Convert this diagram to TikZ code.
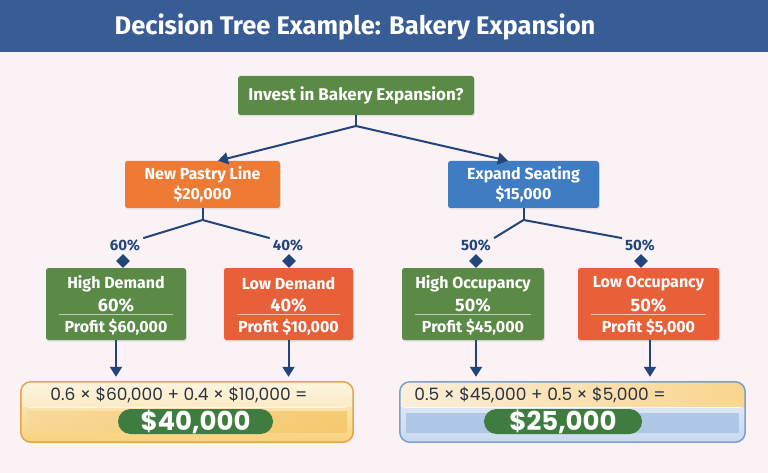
\documentclass[tikz,border=0pt]{standalone}
\usepackage{fontspec}
\setmainfont{Fira Sans}
\newfontfamily\popfont{Poppins}
\usetikzlibrary{arrows.meta,shapes.geometric,shadows,calc}
\definecolor{bg}{HTML}{FAF2F4}
\definecolor{titlebar}{HTML}{385C96}
\definecolor{gnode}{HTML}{5A8A46}
\definecolor{onode}{HTML}{EF7A33}
\definecolor{rnode}{HTML}{E8603A}
\definecolor{bnode}{HTML}{3F7CC1}
\definecolor{navy}{HTML}{22457B}
\definecolor{pillg}{HTML}{3E7C3F}
\definecolor{txtdark}{HTML}{2A3440}
\definecolor{ytop}{HTML}{FDF0D2}
\definecolor{ybot}{HTML}{F8D37C}
\definecolor{yband}{HTML}{F3BD50}
\definecolor{yborder}{HTML}{E9A24E}
\definecolor{ctopl}{HTML}{FBEEDB}
\definecolor{ctopr}{HTML}{FAD58C}
\definecolor{btop}{HTML}{DCE6F2}
\definecolor{bbot}{HTML}{C9D9EE}
\definecolor{bband}{HTML}{A6C2E6}
\definecolor{bborder}{HTML}{7C9FCC}
\tikzset{
  box/.style={rounded corners=2.5pt, text=white, align=center, inner sep=0pt,
    font=\bfseries\fontsize{16}{20}\selectfont,
    drop shadow={opacity=0.18, shadow xshift=0.8pt, shadow yshift=-1.5pt}},
  leaf/.style={box, minimum height=72pt},
  conn/.style={draw=navy, line width=2pt},
  arr/.style={conn, -{Triangle[length=10pt,width=12pt]}},
  pct/.style={text=navy, font=\bfseries\fontsize{15}{17}\selectfont, inner sep=1pt},
  dia/.style={diamond, fill=navy, inner sep=0pt, minimum size=14pt},
  ltxt/.style={text=white, font=\bfseries\fontsize{16}{19}\selectfont, inner sep=0pt},
  btxt/.style={text=white, font=\bfseries\fontsize{18}{21}\selectfont, inner sep=0pt},
  ptxt/.style={text=white, font=\bfseries\fontsize{16}{19}\selectfont, inner sep=0pt},
  sep/.style={draw=white, opacity=0.6, line width=0.8pt},
  formula/.style={text=txtdark, font=\popfont\fontsize{17}{20}\selectfont, inner sep=0pt},
  pill/.style={fill=pillg, rounded corners=12.5pt, text=white, inner sep=0pt,
    font=\popfont\bfseries\fontsize{26}{30}\selectfont},
}
\begin{document}
\begin{tikzpicture}[x=1pt,y=-1pt]
\useasboundingbox (0,0) rectangle (768,473);
\fill[bg] (0,0) rectangle (768,473);
\fill[titlebar] (0,0) rectangle (768,52);
\node[text=white, font=\bfseries\fontsize{25.5}{30}\selectfont, inner sep=0pt] (title) at (355,27) {Decision Tree Example: Bakery Expansion};

% root and first level
\node[box, fill=gnode, minimum width=236pt, minimum height=39pt, font=\bfseries\fontsize{17}{20}\selectfont] (root) at (356,95.5) {Invest in Bakery Expansion?};
\node[box, fill=onode, minimum width=155pt, minimum height=47pt] (np) at (202.5,184.5) {New Pastry Line\\\$20,000};
\node[box, fill=bnode, minimum width=151pt, minimum height=47pt] (es) at (523.5,184.5) {Expand Seating\\\$15,000};

\coordinate (j0) at (356,126);
\draw[conn] (root.south) -- (j0);
\draw[arr] (j0) -- ([xshift=15.5pt]np.north);
\draw[arr] (j0) -- ([xshift=-15.5pt]es.north);

% leaves
\node[leaf, fill=gnode, minimum width=140pt] (hd) at (116,304) {};
\node[leaf, fill=rnode, minimum width=129pt] (ld) at (288.5,304) {};
\node[leaf, fill=gnode, minimum width=142pt] (ho) at (473,304) {};
\node[leaf, fill=rnode, minimum width=141pt] (lo) at (648.5,304) {};

\foreach \n/\a/\b/\c in {hd/High Demand/60\%/{Profit \$60,000}, ld/Low Demand/40\%/{Profit \$10,000}, ho/High Occupancy/50\%/{Profit \$45,000}, lo/Low Occupancy/50\%/{Profit \$5,000}}{
  \node[ltxt] (\n t) at ($(\n.north)+(0,16)$) {\a};
  \node[btxt] (\n p) at ($(\n.north)+(0,38)$) {\b};
  \node[ptxt] (\n f) at ($(\n.north)+(0,59)$) {\c};
  \draw[sep] ($(\n.north west)+(13,47)$) -- ($(\n.north east)+(-13,47)$);
}

% pastry branch
\coordinate (j1) at (202.5,220);
\draw[conn] (np.south) -- (j1);
\node[pct] (l60) at (125,245) {60\%};
\node[pct] (l40) at (288,245) {40\%};
\draw[conn] (j1) -- ([xshift=2pt,yshift=0pt]l60.north east);
\draw[conn] (j1) -- ([xshift=-2pt]l40.north west);
\node[dia] (d60) at (123,261) {};
\node[dia] (d40) at (289,261) {};

% seating branch
\coordinate (j2) at (523.5,220);
\draw[conn] (es.south) -- (j2);
\node[pct] (l50a) at (476,245) {50\%};
\node[pct] (l50b) at (640,245) {50\%};
\draw[conn] (j2) -- ([xshift=2pt]l50a.north east);
\draw[conn] (j2) -- ([xshift=-2pt]l50b.north west);
\node[dia] (d50a) at (476,261) {};
\node[dia] (d50b) at (641,261) {};

% result boxes
\node[minimum width=332pt, minimum height=60pt, inner sep=0pt] (r1) at (187,412) {};
\node[minimum width=345pt, minimum height=60pt, inner sep=0pt] (r2) at (572.5,412) {};

\begin{scope}
  \clip[rounded corners=10pt] (r1.north west) rectangle (r1.south east);
  \shade[top color=ytop, bottom color=ybot] (r1.north west) rectangle (r1.south east);
  \shade[left color=yband!60, right color=yband!90, opacity=0.75] ($(r1.north west)+(6,30)$) rectangle ($(r1.north east)+(-6,51)$);
  \fill[white, opacity=0.3] (r1.north west) rectangle ($(r1.north east)+(0,25)$);
\end{scope}
\draw[draw=yborder, line width=1.5pt, rounded corners=10pt] (r1.north west) rectangle (r1.south east);
\draw[white, opacity=0.8, line width=0.8pt] ($(r1.north west)+(8,26)$) -- ($(r1.north east)+(-8,26)$);

\begin{scope}
  \clip[rounded corners=10pt] (r2.north west) rectangle (r2.south east);
  \shade[left color=ctopl, right color=ctopr] (r2.north west) rectangle ($(r2.north east)+(0,26)$);
  \shade[top color=btop, bottom color=bbot] ($(r2.north west)+(0,26)$) rectangle (r2.south east);
  \fill[bband, opacity=0.8] ($(r2.north west)+(6,31)$) rectangle ($(r2.north east)+(-6,51)$);
\end{scope}
\draw[draw=bborder, line width=1.5pt, rounded corners=10pt] (r2.north west) rectangle (r2.south east);
\draw[white, opacity=0.8, line width=0.8pt] ($(r2.north west)+(4,26)$) -- ($(r2.north east)+(-4,26)$);

\node[formula] (f1) at (179,395) {0.6 × \$60,000 + 0.4 × \$10,000 =};
\node[formula] (f2) at (540,395) {0.5 × \$45,000 + 0.5 × \$5,000 =};
\node[pill, minimum width=155pt, minimum height=25pt] (p1) at (195.5,421.5) {\$40,000};
\node[pill, minimum width=158pt, minimum height=25pt] (p2) at (563,421.5) {\$25,000};

% arrows down
\draw[arr] (hd.south) -- ($(hd.south |- r1.north)+(0,-5)$);
\draw[arr] (ld.south) -- ($(ld.south |- r1.north)+(0,-5)$);
\draw[arr] ([xshift=3pt]ho.south) -- ($([xshift=3pt]ho.south |- r2.north)+(0,-5)$);
\draw[arr] ([xshift=1.5pt]lo.south) -- ($([xshift=1.5pt]lo.south |- r2.north)+(0,-5)$);
\end{tikzpicture}
\end{document}
